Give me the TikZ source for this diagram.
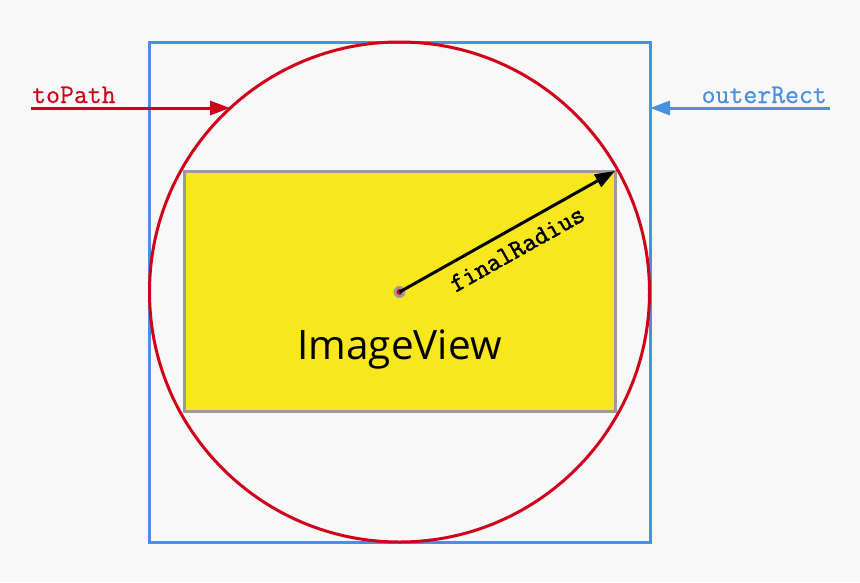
\documentclass[tikz,border=0pt]{standalone}
\usepackage{fontspec}
\setmainfont{Liberation Serif}
\newfontfamily\monofont[FakeBold=0.6]{Latin Modern Mono}
\newfontfamily\monoboldfont[FakeBold=1.6]{Latin Modern Mono}
\newfontfamily\labelfont{Open Sans}
\usetikzlibrary{arrows.meta}
\definecolor{bgc}{HTML}{F8F8F8}
\definecolor{bluec}{HTML}{4A90E2}
\definecolor{redc}{HTML}{D0021B}
\definecolor{yellowc}{HTML}{F8E71C}
\definecolor{grayc}{HTML}{9B9B9B}
\tikzset{
  px/.style={x=1pt,y=-1pt},
  redline/.style={draw=redc,line width=3pt},
  blueline/.style={draw=bluec,line width=3pt},
  tip/.style={-{Triangle[length=20pt,width=14pt]}},
  monolabel/.style={font=\monofont\fontsize{27}{27}\selectfont,inner sep=0pt},
}
\begin{document}
\begin{tikzpicture}[px]
\fill[bgc] (0,0) rectangle (860,582);
\useasboundingbox (0,0) rectangle (860,582);
% yellow image view
\node[draw=grayc,fill=yellowc,line width=3pt,minimum width=431pt,minimum height=240pt,inner sep=0pt] (img) at (399.5,291) {};
\node[font=\labelfont\fontsize{40.5}{40.5}\selectfont] (imgtext) at (399.5,349) {ImageView};
% outer square
\node[blueline,minimum width=501pt,minimum height=500pt,inner sep=0pt] (outer) at (399.5,292) {};
% circle
\node[redline,circle,minimum size=500pt,inner sep=0pt] (circ) at (399.5,292) {};
% center dot
\node[circle,fill=grayc,minimum size=12pt,inner sep=0pt] (center) at (399.5,292) {};
\node[circle,fill=redc,minimum size=6pt,inner sep=0pt] at (center) {};
% radius arrow
\coordinate (corner) at (615,171);
\draw[line width=3pt,tip] (center.center) -- (corner);
\node[font=\monoboldfont\fontsize{26.5}{26.5}\selectfont,inner sep=0pt,rotate=29.3] (rad) at (517,249) {finalRadius};
% toPath
\coordinate (tpstart) at (31,108);
\coordinate (tpend) at (230,108);
\draw[redline,tip] (tpstart) -- (tpend);
\node[monolabel,text=redc,anchor=base west] (tp) at (32,103) {toPath};
% outerRect
\coordinate (orstart) at (830,108);
\coordinate (orend) at (650,108);
\draw[blueline,tip] (orstart) -- (orend);
\node[monolabel,text=bluec,anchor=base east] (or) at (827,103) {outerRect};
\end{tikzpicture}
\end{document}
